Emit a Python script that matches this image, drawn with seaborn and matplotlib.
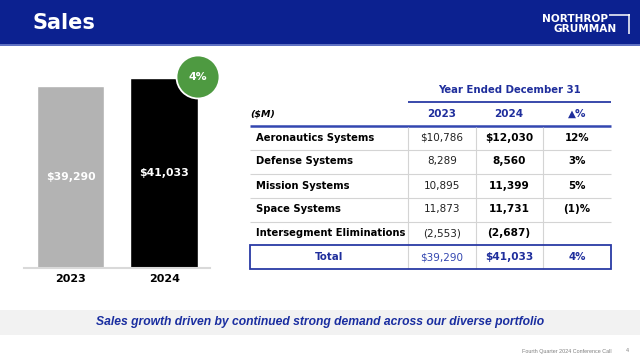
import matplotlib
matplotlib.use("Agg")
import matplotlib.pyplot as plt
from matplotlib.lines import Line2D
from matplotlib.patches import Rectangle, Ellipse
import seaborn as sns

# ---------------- data ----------------
years = ["2023", "2024"]
sales_totals = [39290, 41033]
growth_label = "4%"

segments = ["Aeronautics Systems", "Defense Systems", "Mission Systems",
            "Space Systems", "Intersegment Eliminations"]
seg_2023 = [10786, 8289, 10895, 11873, -2553]
seg_2024 = [12030, 8560, 11399, 11731, -2687]
seg_pct = ["12%", "3%", "5%", "(1)%", ""]
total_pct = "4%"

title = "Sales"
subtitle = "Sales growth driven by continued strong demand across our diverse portfolio"
footnote = "Fourth Quarter 2024 Conference Call"
page_no = "4"

# ---------------- style ----------------
W, H = 640, 357
NAVY = "#0c2190"
BLUE_TXT = "#1f2e9c"
GRID = "#d4d4d4"

sns.set_theme(style="white")
plt.rcParams["font.family"] = ["DejaVu Sans"]

fig = plt.figure(figsize=(W / 100, H / 100), dpi=100)
fig.patch.set_facecolor("white")


def fx(x):
    return x / W


def fy(y):
    return 1 - y / H


def text(x, y, s, **kw):
    kw.setdefault("va", "center")
    kw.setdefault("ha", "center")
    fig.text(fx(x), fy(y), s, **kw)


def hline(x0, x1, y, color, lw, z=2):
    fig.add_artist(Line2D([fx(x0), fx(x1)], [fy(y), fy(y)], transform=fig.transFigure,
                          color=color, lw=lw, zorder=z, solid_capstyle="butt"))


def vline(x, y0, y1, color, lw, z=2):
    fig.add_artist(Line2D([fx(x), fx(x)], [fy(y0), fy(y1)], transform=fig.transFigure,
                          color=color, lw=lw, zorder=z, solid_capstyle="butt"))


def fmt(v, dollar=False):
    s = f"{abs(v):,}"
    if dollar:
        s = "$" + s
    return f"({s})" if v < 0 else s


# ---------------- header ----------------
fig.add_artist(Rectangle((0, fy(44)), 1, 44 / H, transform=fig.transFigure,
                         facecolor=NAVY, edgecolor="none", zorder=1))
hline(0, W, 44.6, "#2f46b0", 1.1)
text(33, 23, title, ha="left", color="white", fontsize=15, fontweight="bold")
text(608, 18.5, "NORTHROP", ha="right", color="white", fontsize=7.6, fontweight="bold")
text(617, 29.5, "GRUMMAN", ha="right", color="white", fontsize=7.6, fontweight="bold")
hline(609, 629.5, 14.5, "white", 1.1)
vline(629, 14, 33.5, "white", 1.1)

# ---------------- bar chart ----------------
ax = fig.add_axes([24 / W, (H - 268) / H, 186 / W, 208.5 / H])
sns.barplot(x=years, y=sales_totals, hue=years, palette=["#b3b3b3", "#000000"],
            width=0.72, legend=False, ax=ax, saturation=1)
ax.set_xlim(-0.497, 1.49)
ax.set_ylim(0, 45000)
ax.set_yticks([])
for s in ["left", "right", "top"]:
    ax.spines[s].set_visible(False)
ax.spines["bottom"].set_color("#d9d9d9")
ax.spines["bottom"].set_linewidth(1.5)
ax.tick_params(axis="x", length=0, pad=4, labelsize=8)
for lab in ax.get_xticklabels():
    lab.set_fontweight("bold")
    lab.set_color("black")
ax.set_facecolor("none")
for i, v in enumerate(sales_totals):
    ax.text(i, v / 2, f"${v:,}", ha="center", va="center", color="white",
            fontsize=7.8, fontweight="bold")

# growth badge
fig.add_artist(Ellipse((fx(198), fy(77)), 43 / W, 43 / H, transform=fig.transFigure,
                       facecolor="#4e9a41", edgecolor="white", lw=1.3, zorder=3))
text(198, 77, growth_label, color="white", fontsize=7.8, fontweight="bold", zorder=4)

# ---------------- table ----------------
col_x = [442, 509, 577]
row_y = [138, 161, 186, 209, 233]
total_y = 257

text(509, 90, "Year Ended December 31", color=BLUE_TXT, fontsize=7.3, fontweight="bold")
hline(408, 611, 102, "#2a3aa5", 1.3)
text(250, 114, "($M)", ha="left", color="black", fontsize=6.8, fontweight="bold",
     style="italic")
for x, s in zip(col_x, [years[0], years[1], "\u25b2%"]):
    text(x, 114, s, color=BLUE_TXT, fontsize=7.5, fontweight="bold")
hline(250, 611, 126, "#3346b0", 1.8)

for y in [149.5, 173.5, 197.5, 221.5]:
    hline(250, 611, y, GRID, 0.8)
for x in [408, 476, 543]:
    vline(x, 127, 269, GRID, 0.8)

for i, (seg, a, b, p) in enumerate(zip(segments, seg_2023, seg_2024, seg_pct)):
    y = row_y[i]
    text(256, y, seg, ha="left", color="black", fontsize=7.2, fontweight="bold")
    text(col_x[0], y, fmt(a, dollar=(i == 0)), color="#222222", fontsize=7.5)
    text(col_x[1], y, fmt(b, dollar=(i == 0)), color="black", fontsize=7.6, fontweight="bold")
    text(col_x[2], y, p, color="black", fontsize=7.4, fontweight="bold")

fig.add_artist(Rectangle((fx(250), fy(269)), 361 / W, 24 / H, transform=fig.transFigure,
                         facecolor="none", edgecolor="#2a3aa5", lw=1.3, zorder=3))
text(329, total_y, "Total", color=BLUE_TXT, fontsize=7.4, fontweight="bold")
text(col_x[0], total_y, f"${sales_totals[0]:,}", color="#3346b0", fontsize=7.5)
text(col_x[1], total_y, f"${sales_totals[1]:,}", color=BLUE_TXT, fontsize=7.6, fontweight="bold")
text(col_x[2], total_y, total_pct, color=BLUE_TXT, fontsize=7.4, fontweight="bold")

# ---------------- footer ----------------
fig.add_artist(Rectangle((0, fy(335)), 1, 25 / H, transform=fig.transFigure,
                         facecolor="#f2f2f2", edgecolor="none", zorder=1))
text(320, 322.5, subtitle, color="#1a2ea0", fontsize=8.7, fontweight="bold",
     style="italic", family=["Liberation Sans", "DejaVu Sans"])
text(612, 351, footnote, ha="right", color="#808080", fontsize=3.9,
     family=["Liberation Sans", "DejaVu Sans"])
text(627, 351, page_no, color="#808080", fontsize=3.9,
     family=["Liberation Sans", "DejaVu Sans"])

fig.savefig("out.png", dpi=100, facecolor="white")
